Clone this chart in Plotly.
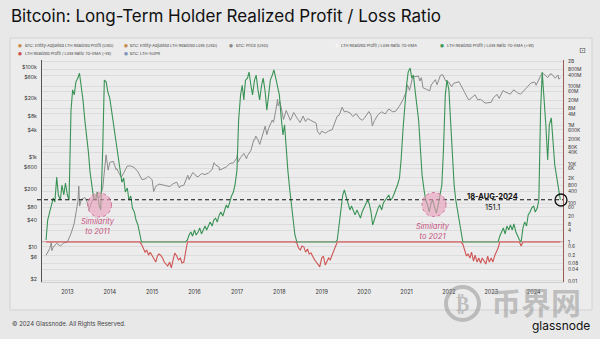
import plotly.graph_objects as go
import pandas as pd
import numpy as np

# ---------------- data ----------------
# LTH realized profit / loss ratio (7D-EMA), sampled on the 1st and 15th of each month
ratio_start = "2012-07-01"
ratio_values = [
    # 2012 (Jul-Dec)
    1.27, 13.6, 35, 81, 185, 115, 2200, 265, 146, 870, 265, 1100,
    # 2013
    265, 146, 6.3e6, 6.9e7, 3.8e7, 1.8e8, 2.8e8, 5.0e8, 1.2e8, 2.1e7, 1.7e6, 3.3e5,
    4.3e4, 4.0e3, 610, 185, 146, 380, 81, 45, 5.5e4, 2.2e8, 1.8e8, 5.4e7,
    # 2014
    2.6e7, 6.3e6, 1.5e6, 3.3e5, 1.0e5, 1.7e4, 5.1e3, 1.2e3, 2.0e3, 380, 610, 146,
    235, 56, 35, 13.6, 7.5, 2.3, 0.79, 0.49, 0.30, 0.39, 0.21, 0.30,
    # 2015
    0.19, 0.15, 0.093, 0.19, 0.24, 0.21, 0.15, 0.093, 0.073, 0.058, 0.093, 0.046,
    0.12, 0.27, 0.19, 0.12, 0.15, 0.083, 0.093, 0.30, 1.27, 2.3, 3.3, 2.0,
    # 2016
    4.2, 2.3, 3.3, 5.3, 2.6, 4.2, 6.7, 4.2, 7.5, 10.7, 6.7, 13.6,
    17, 10.7, 25, 35, 22, 45, 81, 56, 146, 235, 380, 870,
    # 2017
    5.1e3, 1.9e6, 3.8e7, 1.2e8, 2.1e7, 2.2e8, 2.8e8, 5.7e8, 1.2e8, 3.8e7, 2.2e8, 4.0e8,
    6.9e7, 2.1e7, 1.2e8, 2.8e8, 5.4e7, 6.3e6, 3.8e7, 2.2e8, 4.0e8, 7.4e8, 2.8e8, 1.2e8,
    # 2018
    3.8e7, 3.5e6, 3.3e5, 1.1e6, 5.5e4, 5.1e3, 480, 81, 7.5, 2.3, 0.89, 0.49,
    0.39, 0.62, 0.55, 0.30, 0.44, 0.24, 0.27, 0.17, 0.12, 0.093, 0.073, 0.052,
    # 2019
    0.15, 0.19, 0.065, 0.093, 0.15, 0.12, 0.21, 0.39, 0.55, 1.27, 7.5, 45,
    265, 480, 185, 81, 45, 72, 35, 25, 45, 28, 17, 35,
    # 2020
    56, 81, 146, 91, 35, 7.5, 17, 35, 56, 81, 45, 102,
    146, 185, 265, 146, 185, 300, 480, 870, 2.0e3, 1.7e4, 5.9e5, 1.1e7,
    # 2021
    1.2e8, 5.7e8, 9.3e8, 2.8e8, 4.0e8, 6.9e7, 1.1e7, 1.9e6, 5.5e4, 2.8e3, 480, 146,
    81, 35, 102, 146, 56, 31, 81, 265, 870, 5.5e4, 3.8e7, 2.2e8,
    # 2022
    6.9e7, 1.9e6, 1.7e4, 870, 146, 45, 10.7, 3.3, 0.79, 0.39, 0.19, 0.24,
    0.15, 0.30, 0.105, 0.21, 0.093, 0.15, 0.083, 0.15, 0.093, 0.073, 0.19, 0.093,
    # 2023
    0.15, 0.093, 0.21, 0.30, 0.49, 2.0, 3.3, 5.3, 2.6, 6.7, 4.2, 7.5,
    4.2, 8.5, 3.3, 2.0, 1.27, 0.62, 5.3, 10.7, 6.7, 25, 35, 56,
    # 2024 (Jan - mid Aug)
    72, 35, 56, 146, 6.3e6, 5.7e8, 2.1e7, 1.1e6, 1.7e4, 1.1e6, 2.5e6, 1.0e5,
    9.3e3, 2.8e3, 480, 210,
]
latest_date = "2024-08-18"
latest_ratio = 151.1

# BTC price (USD)
price_dates = [
    "2012-07-01", "2012-08-01", "2012-08-16", "2012-08-20", "2012-09-01", "2012-10-01", "2012-11-01", "2012-12-01",
    "2013-01-01", "2013-02-01", "2013-03-01", "2013-03-20", "2013-04-01", "2013-04-09", "2013-04-16", "2013-05-01",
    "2013-06-01", "2013-07-01", "2013-07-06", "2013-08-01", "2013-09-01", "2013-10-01", "2013-10-15", "2013-11-01",
    "2013-11-18", "2013-11-30", "2013-12-18", "2014-01-01", "2014-02-01", "2014-02-25", "2014-03-01", "2014-04-10",
    "2014-05-01", "2014-06-01", "2014-07-01", "2014-08-01", "2014-09-01", "2014-10-05", "2014-11-01", "2014-12-01",
    "2015-01-01", "2015-01-14", "2015-02-01", "2015-03-01", "2015-04-01", "2015-05-01", "2015-06-01", "2015-07-01",
    "2015-08-01", "2015-08-24", "2015-09-01", "2015-10-01", "2015-11-04", "2015-11-15", "2015-12-01", "2015-12-16",
    "2016-01-01", "2016-01-16", "2016-02-01", "2016-03-01", "2016-04-01", "2016-05-01", "2016-06-01", "2016-06-17",
    "2016-07-01", "2016-08-01", "2016-08-02", "2016-09-01", "2016-10-01", "2016-11-01", "2016-12-01", "2016-12-31",
    "2017-01-04", "2017-01-11", "2017-02-01", "2017-03-01", "2017-03-24", "2017-04-01", "2017-05-01", "2017-05-25",
    "2017-06-01", "2017-06-12", "2017-07-01", "2017-07-16", "2017-08-01", "2017-09-01", "2017-09-15", "2017-10-01",
    "2017-11-01", "2017-11-12", "2017-12-01", "2017-12-17", "2017-12-22", "2018-01-06", "2018-02-06", "2018-03-01",
    "2018-04-06", "2018-05-05", "2018-06-01", "2018-06-29", "2018-07-25", "2018-08-14", "2018-09-01", "2018-10-01",
    "2018-11-14", "2018-11-25", "2018-12-15", "2019-01-01", "2019-02-01", "2019-03-01", "2019-04-01", "2019-04-15",
    "2019-05-15", "2019-06-01", "2019-06-26", "2019-07-15", "2019-08-01", "2019-09-01", "2019-09-26", "2019-10-26",
    "2019-11-25", "2019-12-17", "2020-01-01", "2020-02-12", "2020-03-01", "2020-03-12", "2020-04-01", "2020-05-01",
    "2020-06-01", "2020-07-01", "2020-08-01", "2020-09-05", "2020-10-01", "2020-11-01", "2020-12-01", "2021-01-01",
    "2021-01-08", "2021-01-27", "2021-02-21", "2021-03-13", "2021-04-14", "2021-04-25", "2021-05-09", "2021-05-23",
    "2021-06-22", "2021-07-20", "2021-08-01", "2021-09-06", "2021-09-21", "2021-10-20", "2021-11-09", "2021-12-04",
    "2021-12-31", "2022-01-24", "2022-02-10", "2022-03-29", "2022-05-12", "2022-06-18", "2022-07-01", "2022-08-14",
    "2022-09-06", "2022-10-01", "2022-11-09", "2022-12-31", "2023-01-20", "2023-02-20", "2023-03-10", "2023-04-13",
    "2023-05-01", "2023-06-15", "2023-07-13", "2023-08-17", "2023-09-11", "2023-10-23", "2023-11-15", "2023-12-08",
    "2024-01-11", "2024-01-22", "2024-02-28", "2024-03-14", "2024-04-01", "2024-05-01", "2024-05-21", "2024-06-07",
    "2024-07-05", "2024-07-29", "2024-08-05", "2024-08-18",
]
price_usd = [
    6.7, 9.4, 13.0, 8.5, 10.2, 12.4, 10.8, 12.6,
    13.3, 20.4, 34.5, 64, 104, 230, 83, 116,
    128, 88, 68, 106, 146, 127, 150, 206,
    700, 1130, 520, 770, 810, 530, 560, 360,
    450, 640, 640, 590, 475, 320, 330, 380,
    315, 175, 225, 255, 245, 235, 225, 260,
    280, 210, 230, 240, 400, 320, 380, 455,
    430, 380, 370, 435, 415, 450, 535, 760,
    675, 605, 520, 570, 610, 730, 750, 965,
    1150, 780, 990, 1220, 930, 1080, 1420, 2400,
    2410, 2950, 2430, 1930, 2720, 4900, 3200, 4400,
    6700, 5950, 10900, 19300, 13800, 17200, 6900, 10900,
    6600, 9800, 7500, 5900, 8200, 6200, 7200, 6600,
    5700, 3800, 3200, 3800, 3450, 3800, 4100, 5100,
    8200, 8600, 12900, 10200, 10400, 9700, 8050, 9250,
    7150, 6650, 7200, 10350, 8550, 4950, 6600, 8850,
    10200, 9150, 11800, 10150, 10600, 13750, 18800, 29400,
    40600, 30400, 57500, 61200, 63500, 49000, 58200, 34700,
    32500, 29800, 39900, 52700, 40700, 66000, 67500, 49200,
    46300, 36700, 43500, 47400, 29000, 19000, 19300, 24300,
    18800, 19300, 15900, 16500, 21000, 24800, 20200, 30400,
    28000, 25100, 31400, 26600, 25100, 33000, 37900, 44200,
    46600, 39500, 62500, 73100, 69700, 58300, 70100, 69300,
    56700, 66800, 54000, 58500,
]

# axis ticks
year_ticks = [str(y) for y in range(2013, 2025)]
price_tickvals = [2, 6, 10, 40, 80, 200, 600, 1000, 4000, 8000, 20000, 60000, 100000]
price_ticktext = ["$2", "$6", "$10", "$40", "$80", "$200", "$600", "$1k", "$4k", "$8k", "$20k", "$60k", "$100k"]
ratio_tickvals = [0.01, 0.04, 0.08, 0.2, 0.6, 1, 4, 8, 20, 60, 100, 400, 800, 2e3, 6e3, 1e4, 4e4, 8e4,
                  2e5, 6e5, 1e6, 4e6, 8e6, 2e7, 6e7, 1e8, 4e8, 8e8, 2e9]
ratio_ticktext = ["0.01", "0.04", "0.08", "0.2", "0.6", "1", "4", "8", "20", "60", "100", "400", "800",
                  "2K", "6K", "10K", "40K", "80K", "200K", "600K", "1M", "4M", "8M", "20M", "60M",
                  "100M", "400M", "800M", "2B"]

legend_items = [
    ("BTC: Entity-Adjusted LTH Realized Profit (USD)", "#c98c4e", 0, 0),
    ("BTC: Entity-Adjusted LTH Realized Loss (USD)", "#c98c4e", 1, 0),
    ("BTC: Price (USD)", "#8a8a8a", 2, 0),
    ("LTH Realized Profit / Loss Ratio 7D-EMA", "#f4f4f4", 3, 0),
    ("LTH Realized Profit / Loss Ratio 7D-EMA (+ve)", "#3f9a5a", 4, 0),
    ("LTH Realized Profit / Loss Ratio 7D-EMA (-ve)", "#cc5555", 0, 1),
    ("BTC: LTH-SOPR", "#7d93b8", 1, 1),
]

# ---------------- figure ----------------
W, H = 600, 339
PL, PR, PT, PB = 42, 563, 60, 282   # plot area edges in pixels


def px(x):
    return (x - PL) / (PR - PL)


def py(y):
    return (PB - y) / (PB - PT)


def ring(cx, cy, r):
    """Paper-space bounds of a round marker of radius r centred at pixel (cx, cy)."""
    return dict(xref="paper", yref="paper", x0=px(cx - r), x1=px(cx + r), y0=py(cy + r), y1=py(cy - r))


ratio_dates = list(pd.date_range(ratio_start, periods=len(ratio_values), freq="SMS")) + [pd.Timestamp(latest_date)]
ratio = np.array(ratio_values + [latest_ratio])

GREEN = "#3a9356"
RED = "#cf5454"
FONT = "Inter, Roboto, Open Sans, sans-serif"

fig = go.Figure()

fig.add_trace(go.Scatter(
    x=price_dates, y=price_usd, mode="lines", yaxis="y",
    line=dict(color="#8c8c8c", width=1), hoverinfo="skip"))

fig.add_trace(go.Scatter(
    x=ratio_dates, y=np.minimum(ratio, 1.0), mode="lines", yaxis="y2",
    line=dict(color=RED, width=1.1), hoverinfo="skip"))
fig.add_trace(go.Scatter(
    x=ratio_dates, y=np.maximum(ratio, 1.0), mode="lines", yaxis="y2",
    line=dict(color=GREEN, width=1.1), hoverinfo="skip"))

shapes = [
    # chart panel
    dict(type="rect", xref="paper", yref="paper", x0=px(10), x1=px(592), y0=py(310), y1=py(38),
         line=dict(color="#d2d2d2", width=1), fillcolor="#ececec", layer="below"),
    # ratio = 1 reference
    dict(type="line", xref="paper", yref="y2", x0=0, x1=1, y0=1, y1=1,
         line=dict(color="#c86a64", width=1), layer="below"),
    # latest value marker line
    dict(type="line", xref="paper", yref="y2", x0=px(37), x1=1, y0=latest_ratio, y1=latest_ratio,
         line=dict(color="#111111", width=1.2, dash="4px,3px")),
    # latest value ring
    dict(type="circle", line=dict(color="#111111", width=1.3), **ring(561, 200, 6)),
]

# similarity bubbles
for cx, cy in [(99.5, 205), (434, 204.5)]:
    shapes.append(dict(type="circle", fillcolor="rgba(232,158,188,0.62)",
                       line=dict(color="rgba(205,105,148,0.9)", width=1, dash="dot"),
                       **ring(cx, cy, 12)))

# watermark ring
shapes.append(dict(type="circle", line=dict(color="rgba(150,150,150,0.55)", width=4), **ring(462.5, 303.5, 16.5)))

annotations = [
    dict(text="Bitcoin: Long-Term Holder Realized Profit / Loss Ratio", xref="paper", yref="paper",
         x=px(9), y=py(16), xanchor="left", yanchor="middle", showarrow=False,
         font=dict(family=FONT, size=17, color="#111111")),
    dict(text="<b>18-AUG-2024</b>", xref="paper", yref="paper", x=px(492), y=py(196), showarrow=False,
         font=dict(family=FONT, size=7.5, color="#111111"), xanchor="center", yanchor="middle"),
    dict(text="151.1", xref="paper", yref="paper", x=px(492), y=py(207), showarrow=False,
         font=dict(family=FONT, size=7.5, color="#111111"), xanchor="center", yanchor="middle"),
    dict(text="<i>Similarity<br>to 2011</i>", xref="paper", yref="paper", x=px(98), y=py(226),
         showarrow=False, font=dict(family=FONT, size=7.5, color="#c4507e"), align="center",
         xanchor="center", yanchor="middle"),
    dict(text="<i>Similarity<br>to 2021</i>", xref="paper", yref="paper", x=px(433), y=py(231),
         showarrow=False, font=dict(family=FONT, size=7.5, color="#c4507e"), align="center",
         xanchor="center", yanchor="middle"),
    dict(text="© 2024 Glassnode. All Rights Reserved.", xref="paper", yref="paper", x=px(10), y=py(324),
         xanchor="left", yanchor="middle", showarrow=False,
         font=dict(family=FONT, size=6, color="#444444")),
    dict(text="glassnode", xref="paper", yref="paper", x=px(592), y=py(325),
         xanchor="right", yanchor="middle", showarrow=False,
         font=dict(family=FONT, size=12, color="#111111")),
    dict(text="<b>币界网</b>", xref="paper", yref="paper", x=px(536), y=py(301),
         xanchor="center", yanchor="middle", showarrow=False,
         font=dict(family="Noto Sans CJK SC", size=30, color="rgba(150,150,150,0.55)")),
    dict(text="<b>₿</b>", xref="paper", yref="paper", x=px(462.5), y=py(303.5),
         xanchor="center", yanchor="middle", showarrow=False,
         font=dict(family="DejaVu Sans", size=20, color="rgba(150,150,150,0.55)")),
    dict(text="⊡", xref="paper", yref="paper", x=px(582), y=py(50),
         xanchor="center", yanchor="middle", showarrow=False,
         font=dict(family="DejaVu Sans", size=8, color="#555555")),
]

for label, color, col, row in legend_items:
    x0 = 20 + col * 105.5
    y0 = 46 + row * 7.5
    annotations.append(dict(text="●", xref="paper", yref="paper", x=px(x0), y=py(y0),
                            xanchor="center", yanchor="middle", showarrow=False,
                            font=dict(family="DejaVu Sans", size=4.5, color=color)))
    annotations.append(dict(text=label, xref="paper", yref="paper", x=px(x0 + 2.5), y=py(y0),
                            xanchor="left", yanchor="middle", showarrow=False,
                            font=dict(family=FONT, size=4, color="#444444")))

x_tick_font = dict(family=FONT, size=5.5, color="#333333")
y_tick_font = dict(family=FONT, size=5.2, color="#333333")
y2_tick_font = dict(family=FONT, size=4.8, color="#333333")

fig.update_layout(
    width=W, height=H,
    margin=dict(l=PL, r=W - PR, t=PT, b=H - PB),
    paper_bgcolor="#e8e8e8",
    plot_bgcolor="rgba(0,0,0,0)",
    showlegend=False,
    shapes=shapes,
    annotations=annotations,
    xaxis=dict(
        type="date", range=["2012-05-27", "2024-09-10"],
        tickvals=[f"{y}-01-01" for y in year_ticks], ticktext=year_ticks,
        tickfont=x_tick_font, showgrid=False, zeroline=False,
        showline=True, linecolor="#cfcfcf", linewidth=1, ticks="", ticklabelstandoff=4,
    ),
    yaxis=dict(
        type="log", range=[0.235, 5.157],
        tickvals=price_tickvals, ticktext=price_ticktext, tickfont=y_tick_font,
        showgrid=False, zeroline=False, showline=True, linecolor="#555555", linewidth=1,
        ticks="", ticklabelstandoff=3,
    ),
    yaxis2=dict(
        type="log", range=[-2.06, 9.38], overlaying="y", side="right",
        tickvals=ratio_tickvals, ticktext=ratio_ticktext, tickfont=y2_tick_font,
        showgrid=True, gridcolor="#dcdcdc", gridwidth=1, zeroline=False,
        showline=True, linecolor="#9c5a52", linewidth=1, ticks="", ticklabelstandoff=3,
    ),
)

fig.write_html("out.html")
